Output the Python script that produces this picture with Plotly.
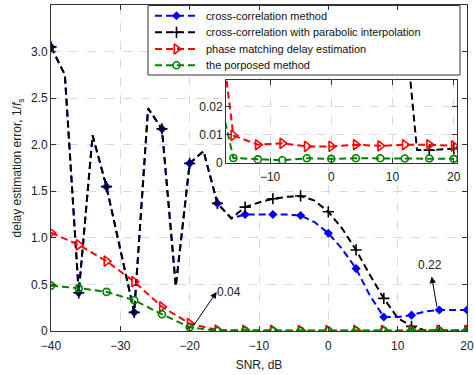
import plotly.graph_objects as go

# ---------------- data ----------------
snr_fine = list(range(-40, 21, 2))          # 2 dB grid (line vertices)
snr = list(range(-40, 21, 4))               # 4 dB grid (markers)

xcorr = [3.05, 2.75, 0.41, 2.10, 1.55, 0.87, 0.20, 2.39, 2.17, 0.48, 1.80, 1.93,
         1.37, 1.21, 1.25, 1.25, 1.25, 1.25, 1.24, 1.17, 1.05, 0.88, 0.67, 0.38,
         0.15, 0.15, 0.17, 0.21, 0.225, 0.225, 0.225]
xcorr_parab = [3.05, 2.75, 0.41, 2.10, 1.55, 0.87, 0.20, 2.39, 2.17, 0.48, 1.80, 1.93,
               1.37, 1.21, 1.33, 1.38, 1.42, 1.44, 1.45, 1.40, 1.28, 1.10, 0.87, 0.60,
               0.35, 0.14, 0.05, 0.0045, 0.0045, 0.0047, 0.005]
phase_match = [1.055, 0.925, 0.75, 0.53, 0.26, 0.08, 0.0097, 0.0064, 0.0069, 0.0058,
               0.0058, 0.0064, 0.006, 0.0064, 0.0064, 0.006]
proposed = [0.487, 0.46, 0.42, 0.33, 0.18, 0.04, 0.0017, 0.0012, 0.0009, 0.0016,
            0.0014, 0.0016, 0.0016, 0.0015, 0.0015, 0.0014]

names = ["cross-correlation method",
         "cross-correlation with parabolic interpolation",
         "phase matching delay estimation",
         "the porposed method"]

x_ticks = [-40, -30, -20, -10, 0, 10, 20]
y_ticks = [0, 0.5, 1.0, 1.5, 2.0, 2.5, 3.0, 3.5]
y_ticktext = ["0", "0.5", "1.0", "1.5", "2.0", "2.5", "3.0", "3.5"]
inset_x_ticks = [-10, 0, 10, 20]
inset_y_ticks = [0, 0.01, 0.02]
inset_y_ticktext = ["0", "0.01", "0.02"]

# ---------------- styles / layout geometry ----------------
BLUE, BLACK, RED, GREEN = "#0000ff", "#000000", "#ff0000", "#008000"
COLORS = [BLUE, BLACK, RED, GREEN]
SYMBOLS = ["diamond", "cross-thin-open", "triangle-right-open", "circle-open"]
MSIZES = [7, 8, 9, 7]
MLW = [0, 1.6, 1.6, 1.6]
DASH = "7px,4px"
FONT = "Liberation Sans, Arial, sans-serif"
W, H = 474, 375
ML, MR, MT, MB = 51, 7, 5, 44
XR, YR = (-40, 20), (0, 3.5)
PW, PH = W - ML - MR, H - MT - MB

def px_to_x(px):
    return XR[0] + (px - ML) / PW * (XR[1] - XR[0])

def px_to_y(py):
    return YR[0] + (H - MB - py) / PH * (YR[1] - YR[0])

fig = go.Figure()

def add_series(xl, yl, xm, ym, i, xa, ya):
    c = COLORS[i]
    fig.add_trace(go.Scatter(x=xl, y=yl, mode="lines", showlegend=False,
                             line=dict(color=c, width=2, dash=DASH),
                             xaxis=xa, yaxis=ya, hoverinfo="skip"))
    fig.add_trace(go.Scatter(x=xm, y=ym, mode="markers", showlegend=False,
                             marker=dict(color=c, symbol=SYMBOLS[i], size=MSIZES[i],
                                         line=dict(color=c, width=MLW[i])),
                             xaxis=xa, yaxis=ya, hoverinfo="skip"))

for xa, ya in (("x", "y"), ("x2", "y2")):
    add_series(snr_fine, xcorr, snr, xcorr[::2], 0, xa, ya)
    add_series(snr_fine, xcorr_parab, snr, xcorr_parab[::2], 1, xa, ya)
    add_series(snr, phase_match, snr, phase_match, 2, xa, ya)
    add_series(snr, proposed, snr, proposed, 3, xa, ya)

# ---------------- custom legend (box + glyphs + text) ----------------
LEG_BOX = (148, 5.5, 460, 75)          # px
LEG_ROWS = [15.7, 32.3, 49.0, 65.3]    # px centres
fig.add_shape(type="rect", xref="x", yref="y", layer="between",
              x0=px_to_x(LEG_BOX[0]), x1=px_to_x(LEG_BOX[2]),
              y0=px_to_y(LEG_BOX[3]), y1=px_to_y(LEG_BOX[1]),
              fillcolor="white", line=dict(color="#333333", width=1))
for i, (name, row) in enumerate(zip(names, LEG_ROWS)):
    c = COLORS[i]
    fig.add_trace(go.Scatter(x=[px_to_x(155), px_to_x(198)], y=[px_to_y(row)] * 2,
                             mode="lines", showlegend=False, hoverinfo="skip",
                             line=dict(color=c, width=2, dash=DASH)))
    fig.add_trace(go.Scatter(x=[px_to_x(176.5)], y=[px_to_y(row)], mode="markers",
                             showlegend=False, hoverinfo="skip",
                             marker=dict(color=c, symbol=SYMBOLS[i], size=MSIZES[i],
                                         line=dict(color=c, width=MLW[i]))))
    fig.add_annotation(x=px_to_x(204), y=px_to_y(row), xref="x", yref="y",
                       xanchor="left", yanchor="middle", text=name, showarrow=False,
                       font=dict(family=FONT, size=11, color="#111111"))

axis_common = dict(showline=True, linecolor="#333333", linewidth=1, mirror="ticks",
                   ticks="inside", ticklen=5, tickcolor="#333333", automargin=False,
                   showgrid=True, gridcolor="#d9d9d9", griddash="dash", gridwidth=1,
                   zeroline=False, tickfont=dict(family=FONT, size=12, color="#222222"))

fig.update_layout(
    width=W, height=H,
    margin=dict(l=ML, r=MR, t=MT, b=MB),
    paper_bgcolor="white", plot_bgcolor="white",
    font=dict(family=FONT, size=12, color="#222222"),
    showlegend=False,
    xaxis=dict(range=list(XR), tickvals=x_ticks, domain=[0, 1], ticklabelstandoff=4,
               title=dict(text="SNR, dB", font=dict(size=12), standoff=8), **axis_common),
    yaxis=dict(range=list(YR), tickvals=y_ticks, ticktext=y_ticktext, domain=[0, 1],
               title=dict(text="delay estimation error, 1/<i>f</i><sub>s</sub>",
                          font=dict(size=12), standoff=6), **axis_common),
    xaxis2=dict(range=[-17.2, 20.6], tickvals=inset_x_ticks, anchor="y2",
                domain=[0.4207, 0.977], ticklabelstandoff=3, **axis_common),
    yaxis2=dict(range=[0, 0.0293], tickvals=inset_y_ticks, ticktext=inset_y_ticktext,
                anchor="x2", domain=[0.516, 0.7695], **axis_common),
)

# annotations with arrows (head near the label)
fig.add_annotation(x=-16.1, y=0.42, ax=-19.56, ay=0.046, xref="x", yref="y",
                   axref="x", ayref="y", text="", showarrow=True, arrowhead=2,
                   arrowsize=1.3, arrowwidth=1, arrowcolor="black", standoff=0)
fig.add_annotation(x=-14.3, y=0.42, xref="x", yref="y", text="0.04", showarrow=False,
                   font=dict(family=FONT, size=12, color="#222222"))
fig.add_annotation(x=14.9, y=0.584, ax=15.7, ay=0.244, xref="x", yref="y",
                   axref="x", ayref="y", text="", showarrow=True, arrowhead=2,
                   arrowsize=1.3, arrowwidth=1, arrowcolor="black", standoff=0)
fig.add_annotation(x=14.67, y=0.71, xref="x", yref="y", text="0.22", showarrow=False,
                   font=dict(family=FONT, size=12, color="#222222"))

fig.write_html("out.html",
               config={"displayModeBar": False},
               post_script="document.body.style.margin='0';"
                           "document.body.style.overflow='hidden';")
